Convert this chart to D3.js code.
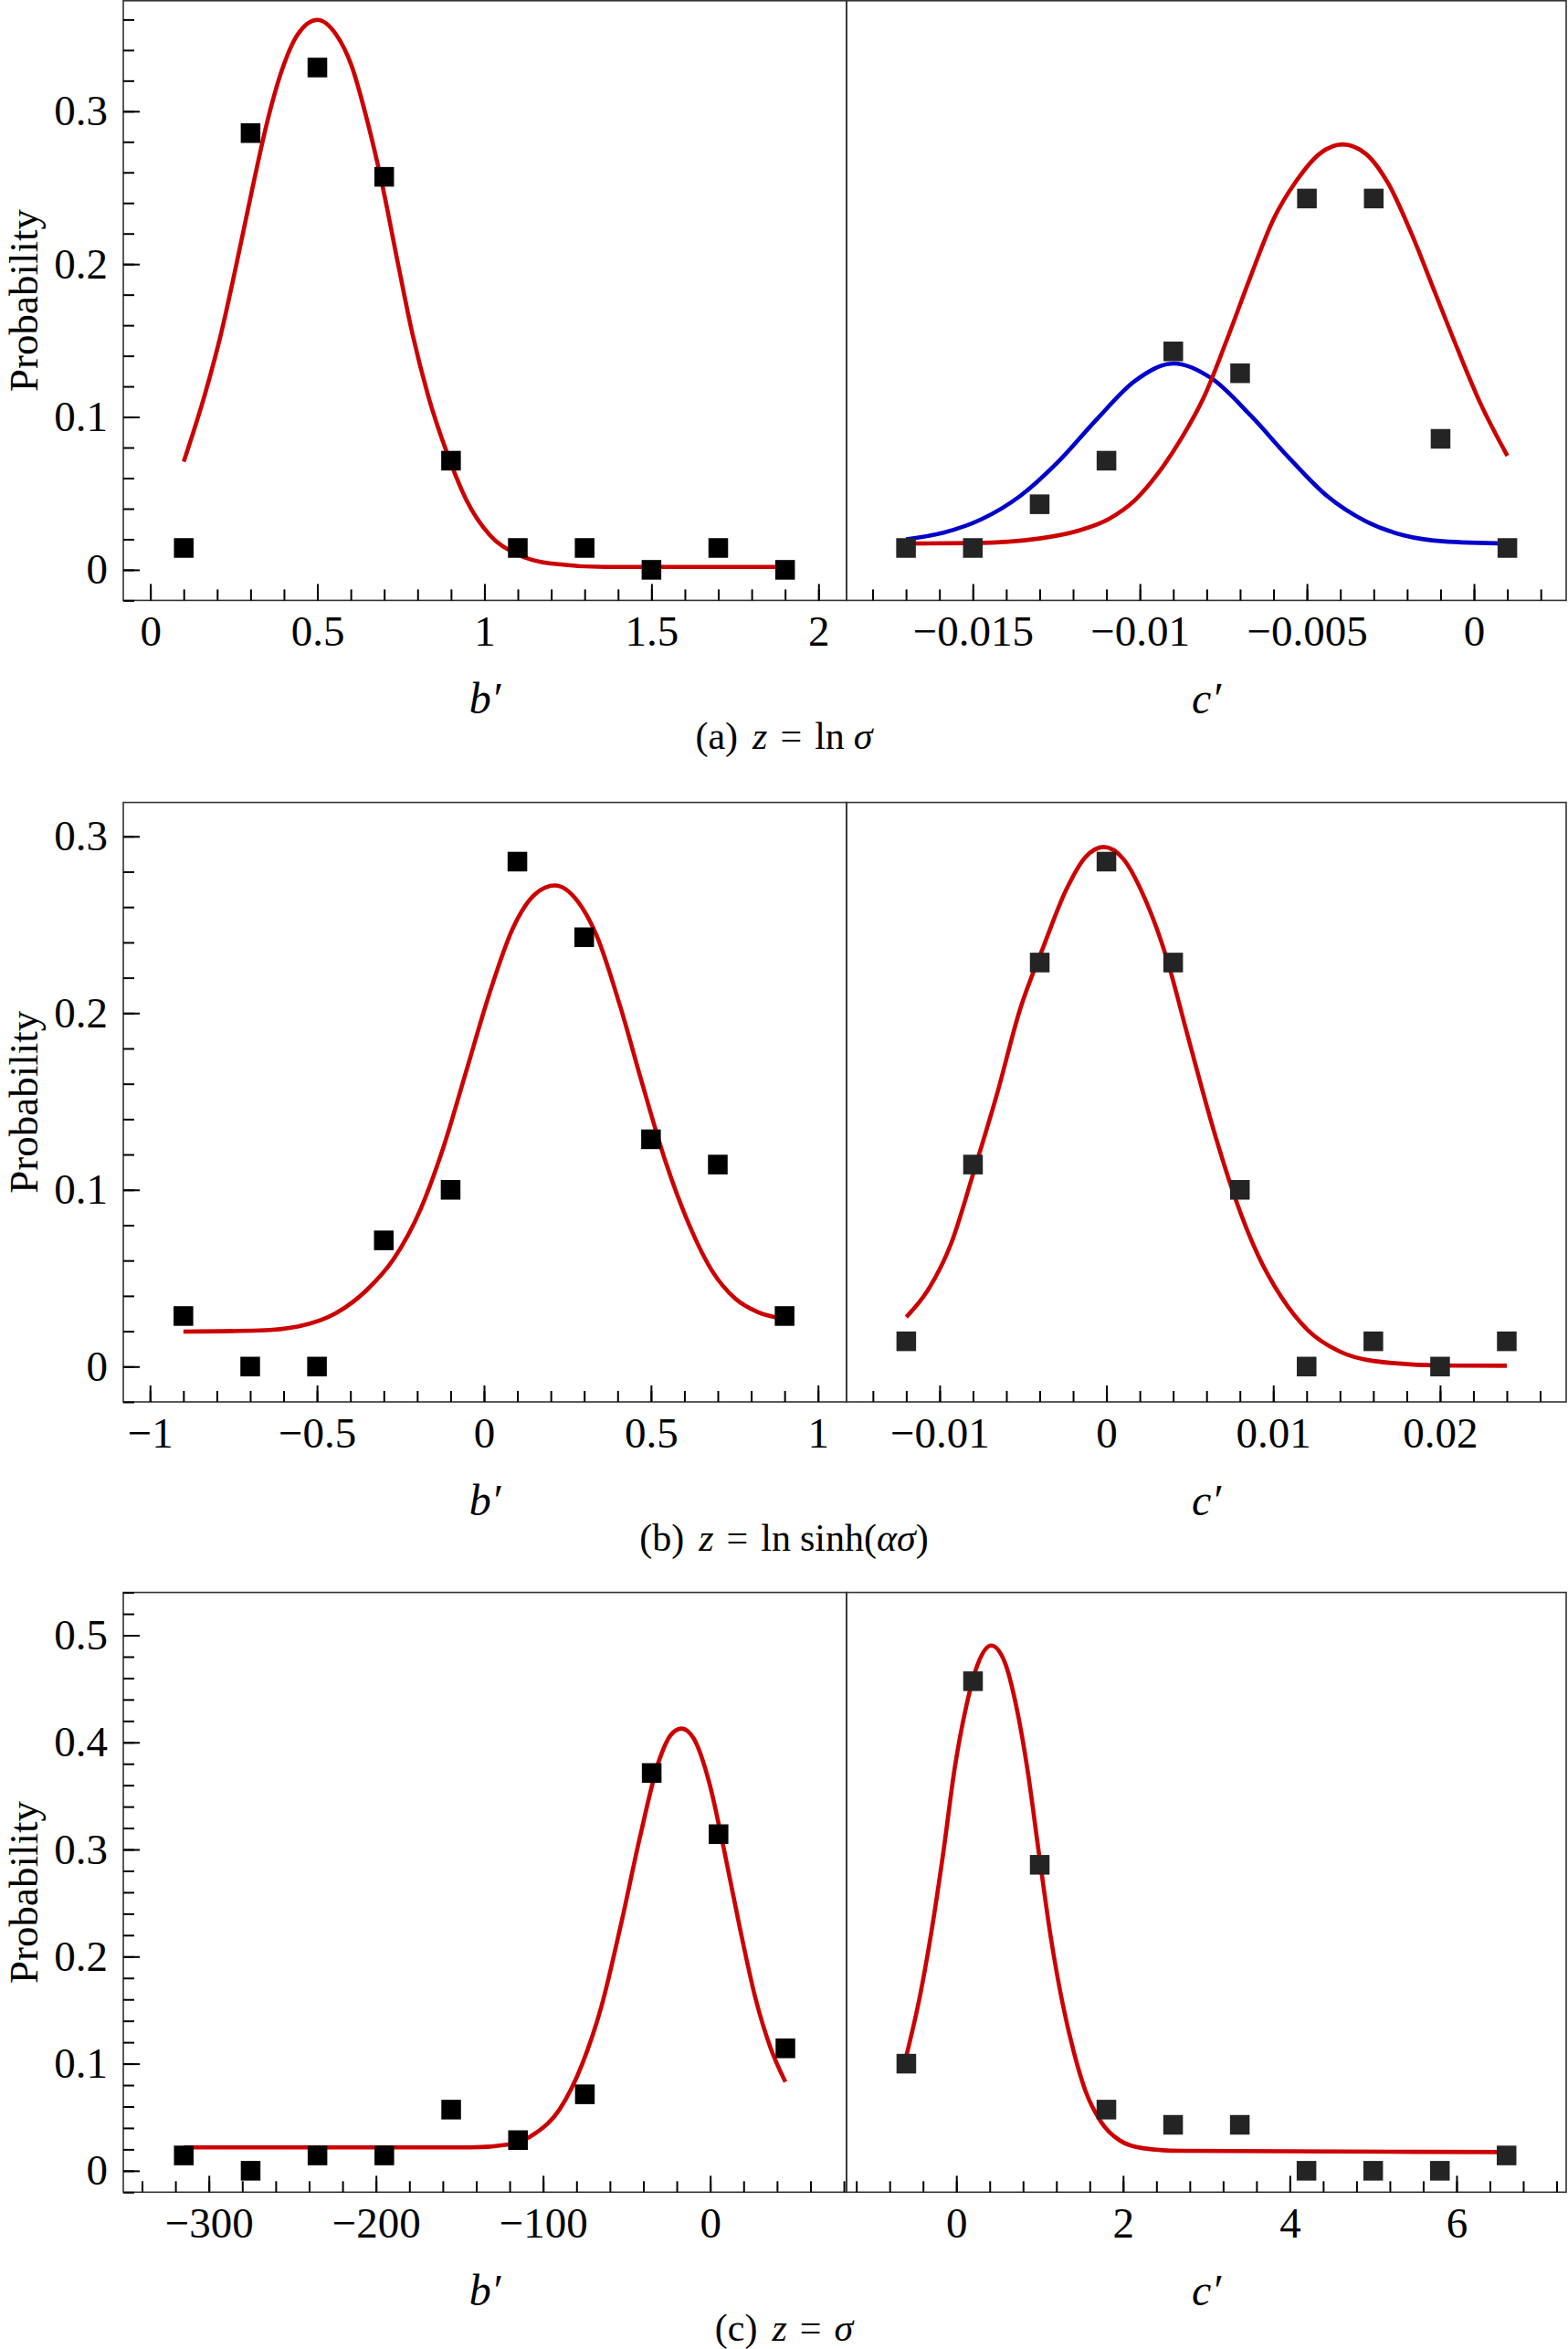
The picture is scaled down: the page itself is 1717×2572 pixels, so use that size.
<!DOCTYPE html>
<html>
<head>
<meta charset="utf-8">
<title>Probability of b' and c'</title>
<script src="https://cdn.jsdelivr.net/npm/d3@7"></script>
<style>
  html, body { margin: 0; padding: 0; background: #fff; }
  svg { display: block; }
  text { font-family: 'Liberation Serif', 'Times New Roman', serif; fill: #000; }
</style>
</head>
<body>
<script>
/* global d3 */
(function () {
  'use strict'

  // (a) z = ln(sigma)
  var aBX = [0.1, 0.3, 0.5, 0.7, 0.9, 1.1, 1.3, 1.5, 1.7, 1.9]
  var aBP = [0.0143, 0.2857, 0.3286, 0.2571, 0.0714, 0.0143, 0.0143, 0, 0.0143, 0]
  var aBFitX = [0.1, 0.165, 0.211, 0.257, 0.303, 0.349, 0.395, 0.441, 0.5, 0.556, 0.602,
    0.648, 0.694, 0.74, 0.785, 0.832, 0.889, 0.946, 1.015, 1.096, 1.199, 1.36, 1.9]
  var aBFitP = [0.0708, 0.1161, 0.1539, 0.1992, 0.247, 0.2923, 0.3276, 0.3502, 0.3598, 0.3502,
    0.33, 0.2949, 0.2521, 0.2017, 0.1539, 0.1136, 0.0759, 0.0457, 0.023, 0.0104, 0.0041, 0.0019, 0.0019]

  var aCX = [-0.017, -0.015, -0.013, -0.011, -0.009, -0.007, -0.005, -0.003, -0.001, 0.001]
  var aCP = [0.0143, 0.0143, 0.0429, 0.0714, 0.1429, 0.1286, 0.2429, 0.2429, 0.0857, 0.0143]
  var aCRedX = [-0.017, -0.01496, -0.01301, -0.01186, -0.01094, -0.01014, -0.00945, -0.00876,
    -0.00807, -0.00738, -0.00669, -0.006, -0.00531, -0.00462, -0.00393, -0.00324, -0.00255,
    -0.00186, -0.00117, -0.00048, 0.0002, 0.001]
  var aCRedP = [0.0172, 0.0175, 0.0205, 0.0255, 0.0331, 0.0457, 0.0633, 0.0859, 0.1136, 0.1514,
    0.1917, 0.2294, 0.2546, 0.2722, 0.2783, 0.2722, 0.2521, 0.2194, 0.1816, 0.1438, 0.1086, 0.0746]
  var aCBlueX = [-0.017, -0.01588, -0.01474, -0.01359, -0.01244, -0.01129, -0.01014, -0.00899,
    -0.00784, -0.00669, -0.00554, -0.00439, -0.00324, -0.00209, -0.00094, 0.001]
  var aCBlueP = [0.02, 0.0243, 0.0331, 0.0482, 0.0708, 0.0985, 0.1237, 0.135, 0.125, 0.1011,
    0.0734, 0.0482, 0.0318, 0.0225, 0.0187, 0.0172]

  // (b) z = ln sinh(alpha sigma)
  var bBX = [-0.9, -0.7, -0.5, -0.3, -0.1, 0.1, 0.3, 0.5, 0.7, 0.9]
  var bBP = [0.0286, 0, 0, 0.0714, 0.1, 0.2857, 0.2429, 0.1286, 0.1143, 0.0286]
  var bBFitX = [-0.9, -0.673, -0.558, -0.443, -0.351, -0.271, -0.19, -0.122, -0.053, 0.016,
    0.086, 0.154, 0.212, 0.281, 0.338, 0.407, 0.476, 0.545, 0.614, 0.683, 0.752, 0.821, 0.9]
  var bBFitP = [0.0198, 0.0204, 0.0226, 0.0302, 0.0433, 0.0607, 0.089, 0.1238, 0.1673, 0.2109,
    0.2478, 0.2674, 0.2722, 0.2631, 0.2435, 0.2043, 0.1586, 0.1151, 0.0803, 0.0541, 0.0385,
    0.0307, 0.0269]

  var bCX = [-0.012, -0.008, -0.004, 0, 0.004, 0.008, 0.012, 0.016, 0.02, 0.024]
  var bCP = [0.0143, 0.1143, 0.2286, 0.2857, 0.2286, 0.1, 0, 0.0143, 0, 0.0143]
  var bCFitX = [-0.012, -0.0107, -0.00932, -0.00794, -0.00656, -0.00518, -0.0038, -0.00242,
    -0.00127, -0.00016, 0.00103, 0.00218, 0.00356, 0.00494, 0.00633, 0.00771, 0.00909,
    0.01047, 0.01208, 0.01392, 0.01599, 0.02013, 0.024]
  var bCFitP = [0.028, 0.0433, 0.0694, 0.1107, 0.1542, 0.2021, 0.237, 0.2696, 0.2881, 0.294,
    0.287, 0.2674, 0.2326, 0.1847, 0.1369, 0.0955, 0.0629, 0.0395, 0.0205, 0.0088, 0.0032,
    0.0006, 0.0005]

  // (c) z = sigma
  var cBX = [-315, -275, -235, -195, -155, -115, -75, -35, 5, 45]
  var cBP = [0.0143, 0, 0.0143, 0.0143, 0.0571, 0.0286, 0.0714, 0.3714, 0.3143, 0.1143]
  var cBFitX = [-315, -143.2, -120.2, -104.1, -90.3, -76.5, -65, -53.5, -42, -30.5, -23.6,
    -17.1, -9.7, -0.5, 8.6, 17.9, 27.1, 36.2, 45]
  var cBFitP = [0.0218, 0.0218, 0.0246, 0.0355, 0.0569, 0.1, 0.1539, 0.2292, 0.3117, 0.3835,
    0.4068, 0.4129, 0.4032, 0.362, 0.2974, 0.2256, 0.161, 0.1144, 0.083]

  var cCX = [-0.6, 0.2, 1.0, 1.8, 2.6, 3.4, 4.2, 5.0, 5.8, 6.6]
  var cCP = [0.1, 0.4571, 0.2857, 0.0571, 0.0429, 0.0429, 0, 0, 0, 0.0143]
  var cCFitX = [-0.6, -0.433, -0.294, -0.156, -0.019, 0.119, 0.258, 0.419, 0.58, 0.719, 0.857,
    0.995, 1.132, 1.271, 1.409, 1.547, 1.731, 1.962, 2.237, 2.698, 6.6]
  var cCFitP = [0.1072, 0.1646, 0.2256, 0.2974, 0.3763, 0.4337, 0.4732, 0.4904, 0.475, 0.4337,
    0.3727, 0.2938, 0.2184, 0.1575, 0.1108, 0.0749, 0.0462, 0.0282, 0.0211, 0.0186, 0.0175]

  // Tick labels
  var aBTicks = [0, 0.5, 1, 1.5, 2]
  var aBLabels = ['0', '0.5', '1', '1.5', '2']
  var aCTicks = [-0.015, -0.01, -0.005, 0]
  var aCLabels = ['\u22120.015', '\u22120.01', '\u22120.005', '0']
  var bBTicks = [-1, -0.5, 0, 0.5, 1]
  var bBLabels = ['\u22121', '\u22120.5', '0', '0.5', '1']
  var bCTicks = [-0.01, 0, 0.01, 0.02]
  var bCLabels = ['\u22120.01', '0', '0.01', '0.02']
  var cBTicks = [-300, -200, -100, 0]
  var cBLabels = ['\u2212300', '\u2212200', '\u2212100', '0']
  var cCTicks = [0, 2, 4, 6]
  var cCLabels = ['0', '2', '4', '6']
  var pTicksAB = [0, 0.1, 0.2, 0.3]
  var pLabelsAB = ['0', '0.1', '0.2', '0.3']
  var pTicksC = [0, 0.1, 0.2, 0.3, 0.4, 0.5]
  var pLabelsC = ['0', '0.1', '0.2', '0.3', '0.4', '0.5']

  var red = '#cc0000'
  var blue = '#0000cc'

  var dim = { w: 1717, h: 2572 }
  var cols = { left: 135, mid: 927, right: 1715 }

  var svg = d3.select('body').append('svg')
    .attr('width', dim.w)
    .attr('height', dim.h)

  var rows = [
    {
      top: 0.8, bottom: 657.4, pDomain: [-0.02, 0.3723], pTicks: pTicksAB, pLabels: pLabelsAB,
      caption: [['(a)', false, 0], ['z', true, 16], ['=', false, 14], ['ln', false, 14], ['\u03c3', true, 10]],
      left: { domain: [-0.081, 2.084], ticks: aBTicks, labels: aBLabels, step: 0.1,
        points: [aBX, aBP], fill: '#000', curves: [[aBFitX, aBFitP, red]] },
      right: { domain: [-0.01878, 0.00276], ticks: aCTicks, labels: aCLabels, step: 0.001,
        points: [aCX, aCP], fill: '#242424', curves: [[aCBlueX, aCBlueP, blue], [aCRedX, aCRedP, red]] }
    },
    {
      top: 878.6, bottom: 1535, pDomain: [-0.02, 0.3192], pTicks: pTicksAB, pLabels: pLabelsAB,
      caption: [['(b)', false, 0], ['z', true, 16], ['=', false, 14], ['ln', false, 14],
        ['sinh(', false, 10], ['\u03b1\u03c3', true, 0], [')', false, 0]],
      left: { domain: [-1.08, 1.0855], ticks: bBTicks, labels: bBLabels, step: 0.1,
        points: [bBX, bBP], fill: '#000', curves: [[bBFitX, bBFitP, red]] },
      right: { domain: [-0.01558, 0.02756], ticks: bCTicks, labels: bCLabels, step: 0.002,
        points: [bCX, bCP], fill: '#242424', curves: [[bCFitX, bCFitP, red]] }
    },
    {
      top: 1743.6, bottom: 2400.3, pDomain: [-0.02, 0.54], pTicks: pTicksC, pLabels: pLabelsC,
      caption: [['(c)', false, 0], ['z', true, 16], ['=', false, 14], ['\u03c3', true, 14]],
      left: { domain: [-351.2, 81.6], ticks: cBTicks, labels: cBLabels, step: 20,
        points: [cBX, cBP], fill: '#000', curves: [[cBFitX, cBFitP, red]] },
      right: { domain: [-1.317, 7.315], ticks: cCTicks, labels: cCLabels, step: 0.4,
        points: [cCX, cCP], fill: '#242424', curves: [[cCFitX, cCFitP, red]] }
    }
  ]

  rows.forEach(function (row) {
    var y = d3.scaleLinear().domain(row.pDomain).range([row.bottom, row.top])

    plotPanel(row.left, cols.left, cols.mid, y, row, 'b')
    plotPanel(row.right, cols.mid, cols.right, y, row, 'c')
    plotYAxis(y, row)

    svg.append('text')
      .attr('transform', 'translate(41,' + (row.top + row.bottom) / 2 + ') rotate(-90)')
      .attr('text-anchor', 'middle')
      .style('font-size', '45px')
      .text('Probability')

    var cap = svg.append('text')
      .attr('x', dim.w / 2)
      .attr('y', row.bottom + 163)
      .attr('text-anchor', 'middle')
      .style('font-size', '42px')
    row.caption.forEach(function (c) {
      cap.append('tspan')
        .attr('dx', c[2])
        .style('font-style', c[1] ? 'italic' : 'normal')
        .text(c[0])
    })
  })

  function minorTicks (domain, step) {
    var lo = Math.ceil(domain[0] / step - 1e-9)
    var hi = Math.floor(domain[1] / step + 1e-9)
    return d3.range(lo, hi + 1).map(function (i) { return i * step })
  }

  function styleTicks (g) {
    g.select('.domain').remove()
    g.selectAll('.tick line').attr('stroke', '#000').attr('stroke-width', 2)
  }

  function plotYAxis (y, row) {
    svg.append('g')
      .attr('transform', 'translate(' + cols.left + ',0)')
      .call(d3.axisLeft(y).tickValues(minorTicks(row.pDomain, 0.02))
        .tickSize(-12).tickFormat(''))
      .call(styleTicks)

    var major = svg.append('g')
      .attr('transform', 'translate(' + cols.left + ',0)')
      .call(d3.axisLeft(y).tickValues(row.pTicks).tickSize(-18).tickPadding(17)
        .tickFormat(function (d, i) { return row.pLabels[i] }))
      .call(styleTicks)
    major.selectAll('text').style('font-size', '47px').attr('font-family', null)
  }

  function plotPanel (p, x0, x1, y, row, name) {
    var x = d3.scaleLinear().domain(p.domain).range([x0, x1])
    var g = svg.append('g').attr('class', 'panel')

    g.append('rect')
      .attr('x', x0)
      .attr('y', row.top)
      .attr('width', x1 - x0)
      .attr('height', row.bottom - row.top)
      .attr('fill', 'none')
      .attr('stroke', '#333')
      .attr('stroke-width', 1.6)

    g.append('g')
      .attr('transform', 'translate(0,' + row.bottom + ')')
      .call(d3.axisBottom(x).tickValues(minorTicks(p.domain, p.step))
        .tickSize(-12).tickFormat(''))
      .call(styleTicks)

    var major = g.append('g')
      .attr('transform', 'translate(0,' + row.bottom + ')')
      .call(d3.axisBottom(x).tickValues(p.ticks).tickSize(-18)
        .tickFormat(function (d, i) { return p.labels[i] }))
      .call(styleTicks)
    major.selectAll('text')
      .attr('y', 50)
      .attr('dy', null)
      .attr('font-family', null)
      .style('font-size', '47px')

    var line = d3.line()
      .x(function (d) { return x(d[0]) })
      .y(function (d) { return y(d[1]) })
      .curve(d3.curveMonotoneX)

    p.curves.forEach(function (c) {
      g.append('path')
        .datum(d3.zip(c[0], c[1]))
        .attr('d', line)
        .attr('fill', 'none')
        .attr('stroke', c[2])
        .attr('stroke-width', 4.6)
    })

    var size = 21.5
    g.selectAll('.pt')
      .data(d3.zip(p.points[0], p.points[1]))
      .join('rect')
      .attr('class', 'pt')
      .attr('x', function (d) { return x(d[0]) - size / 2 })
      .attr('y', function (d) { return y(d[1]) - size / 2 })
      .attr('width', size)
      .attr('height', size)
      .attr('fill', p.fill)

    g.append('text')
      .attr('x', (x0 + x1) / 2)
      .attr('y', row.bottom + 124)
      .attr('text-anchor', 'middle')
      .style('font-size', '48px')
      .style('font-style', 'italic')
      .text(name + '\u2032')
  }
}())
</script>
</body>
</html>
